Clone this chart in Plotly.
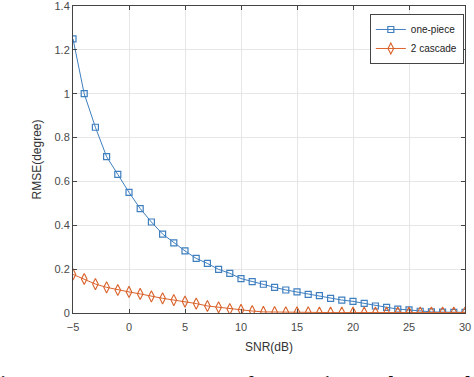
import plotly.graph_objects as go

snr = list(range(-5, 31))
one_piece = [1.25, 1.0, 0.847, 0.713, 0.632, 0.55, 0.476, 0.415, 0.36, 0.32, 0.283,
             0.249, 0.226, 0.199, 0.181, 0.157, 0.143, 0.131, 0.117, 0.105, 0.096,
             0.085, 0.079, 0.067, 0.059, 0.053, 0.044, 0.032, 0.026, 0.018, 0.014,
             0.008, 0.005, 0.004, 0.003, 0.003]
cascade = [0.176, 0.155, 0.132, 0.117, 0.105, 0.096, 0.087, 0.076, 0.067, 0.059, 0.052,
           0.043, 0.032, 0.026, 0.018, 0.014, 0.009, 0.005, 0.004, 0.003, 0.003,
           0.003, 0.002, 0.002, 0.002, 0.002, 0.002, 0.002, 0.002, 0.002, 0.002,
           0.002, 0.002, 0.002, 0.002, 0.002]
x_ticks = [-5, 0, 5, 10, 15, 20, 25, 30]
y_ticks = [0, 0.2, 0.4, 0.6, 0.8, 1.0, 1.2, 1.4]
y_tick_text = ["0", "0.2", "0.4", "0.6", "0.8", "1", "1.2", "1.4"]

blue = "#3f7fbf"
orange = "#d9622b"

fig = go.Figure()
fig.add_trace(go.Scatter(x=snr, y=one_piece, mode="lines+markers", name="one-piece",
                         line=dict(color=blue, width=1),
                         marker=dict(symbol="square-open", size=6, color=blue, line=dict(width=1.2))))
fig.add_trace(go.Scatter(x=snr, y=cascade, mode="lines+markers", name="2 cascade",
                         line=dict(color=orange, width=1),
                         marker=dict(symbol="diamond-tall-open", size=8, color=orange, line=dict(width=1.1))))

axis_common = dict(showgrid=True, gridcolor="#e6e6e6", gridwidth=1, showline=True,
                   linecolor="#444444", linewidth=1, mirror="ticks", ticks="inside",
                   ticklen=4, tickcolor="#444444", zeroline=False, automargin=False,
                   ticklabeloverflow="allow",
                   tickfont=dict(family="Liberation Sans, Arial", size=11, color="#4a4a4a"))

fig.update_xaxes(range=[-5, 30], tickvals=x_ticks, ticklabelstandoff=4,
                 title=dict(text="SNR(dB)", standoff=10,
                            font=dict(family="Liberation Sans, Arial", size=12, color="#333333")),
                 **axis_common)
fig.update_yaxes(range=[0, 1.4], tickvals=y_ticks, ticktext=y_tick_text,
                 title=dict(text="RMSE(degree)", standoff=10,
                            font=dict(family="Liberation Sans, Arial", size=12, color="#333333")),
                 **axis_common)

fig.update_layout(
    width=474, height=377,
    margin=dict(l=73, r=9, t=6, b=64),
    paper_bgcolor="white", plot_bgcolor="white",
    showlegend=True,
    legend=dict(x=0.997, y=0.974, xanchor="right", yanchor="top",
                bgcolor="white", bordercolor="#444444", borderwidth=1,
                font=dict(family="Liberation Sans, Arial", size=10, color="#222222"),
                tracegroupgap=0, itemwidth=30),
    annotations=[dict(text="<b>Figure 7.   RMSE versus SNR for one-piece and 2 cascade</b>",
                      xref="paper", yref="paper", x=-0.222, y=-0.188, xanchor="left", yanchor="top",
                      showarrow=False,
                      font=dict(family="Liberation Serif, Times New Roman", size=20, color="#111111"))],
)

fig.write_html("out.html", config={"displayModeBar": False},
               post_script="document.body.style.margin='0';document.body.style.overflow='hidden';")
